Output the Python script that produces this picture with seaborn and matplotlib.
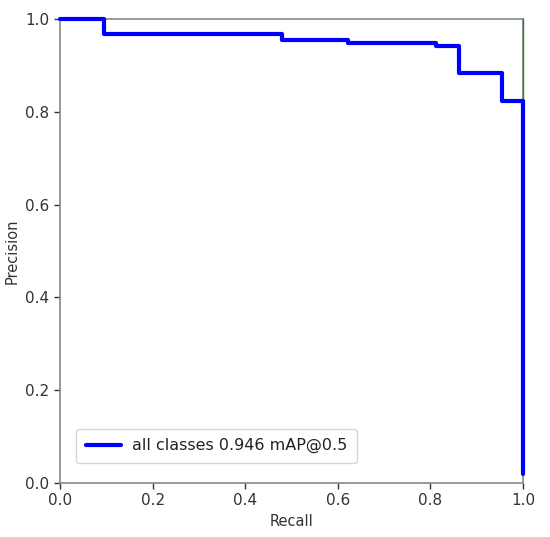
import matplotlib
matplotlib.use("Agg")
import matplotlib.pyplot as plt
import seaborn as sns
import pandas as pd

# Data
recall = [0.0, 0.095, 0.479, 0.621, 0.812, 0.861, 0.955, 1.0, 1.0]
precision = [1.0, 0.968, 0.955, 0.949, 0.942, 0.883, 0.823, 0.823, 0.02]
class_recall = [0.0, 0.095, 0.479, 0.621, 0.812, 0.861, 0.955, 1.0, 1.0]
class_precision = [1.0, 0.968, 0.955, 0.949, 0.942, 0.883, 0.823, 0.823, 1.0]
legend_label = "all classes 0.946 mAP@0.5"
x_label = "Recall"
y_label = "Precision"

sns.set_style("white")
plt.rcParams['font.family'] = ['DejaVu Sans']

fig = plt.figure(figsize=(5.5, 5.37), dpi=100)
ax = fig.add_axes([60/550, 54/537, 463/550, 464/537])

df_c = pd.DataFrame({"r": class_recall, "p": class_precision})
df_a = pd.DataFrame({"r": recall, "p": precision})

sns.lineplot(data=df_c, x="r", y="p", ax=ax, estimator=None, sort=False,
             color="#2e7d32", linewidth=1, drawstyle="steps-post")
sns.lineplot(data=df_a, x="r", y="p", ax=ax, estimator=None, sort=False,
             color="blue", linewidth=3, drawstyle="steps-post", label=legend_label)
for ln in ax.get_lines():
    ln.set_clip_on(False)

ax.set_xlim(0, 1)
ax.set_ylim(0, 1)
ax.set_xlabel(x_label, fontsize=10.5, color="#333333")
ax.set_ylabel(y_label, fontsize=10.5, color="#333333")
ax.tick_params(axis="both", labelsize=11, colors="#333333", length=4, width=1,
               direction="out", bottom=True, left=True)
for s in ax.spines.values():
    s.set_color("#888888")
    s.set_linewidth(1.2)
    s.set_zorder(1)

leg = ax.legend(loc="lower left", bbox_to_anchor=(0.035, 0.043), borderaxespad=0,
                fontsize=11.5, frameon=True, borderpad=0.6, handlelength=2.2,
                handletextpad=0.7)
for t in leg.get_texts():
    t.set_color("#222222")

fig.savefig("out.png", dpi=100)
